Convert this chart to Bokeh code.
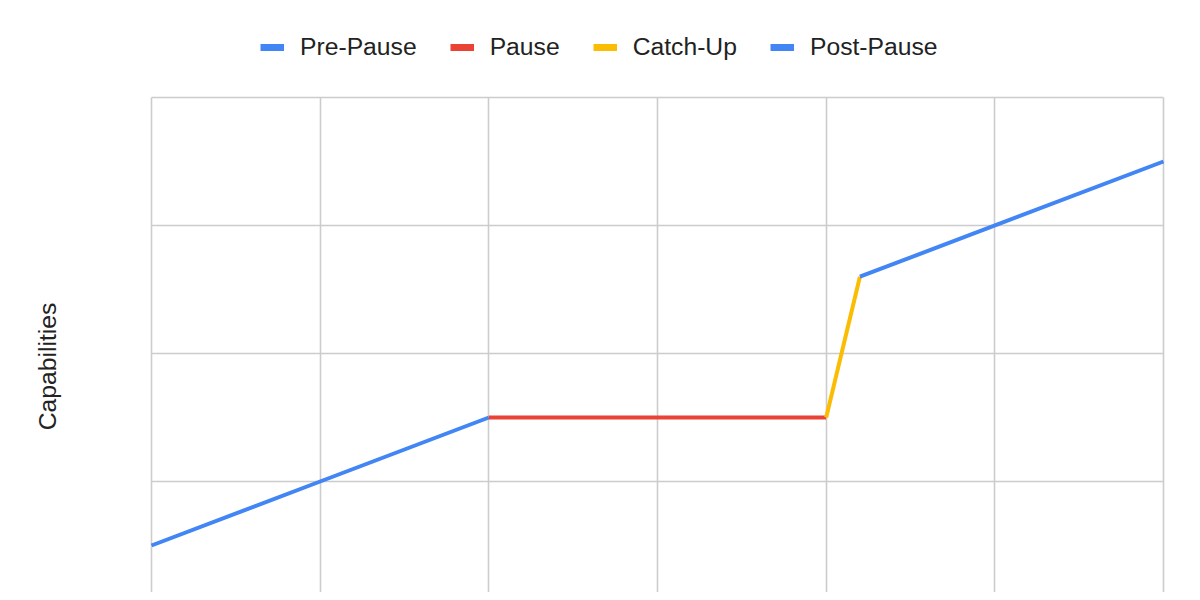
import math
from bokeh.plotting import figure
from bokeh.models import Range1d, Grid, FixedTicker, Legend, LegendItem, Label
from bokeh.embed import file_html
from bokeh.resources import INLINE

# ---- data ----
pre_x = [0, 1, 2]
pre_y = [0.5, 1.0, 1.5]
pause_x = [2, 4]
pause_y = [1.5, 1.5]
catch_x = [4, 4.2]
catch_y = [1.5, 2.6]
post_x = [4.2, 6]
post_y = [2.6, 3.5]
x_grid = [0, 1, 2, 3, 4, 5, 6]
y_grid = [0, 1, 2, 3, 4]
series_names = ["Pre-Pause", "Pause", "Catch-Up", "Post-Pause"]
series_colors = ["#4285F4", "#EA4335", "#FBBC04", "#4285F4"]
y_title = "Capabilities"

FONT = "Liberation Sans"
W, H = 1192, 592
PX_X = 168.667   # pixels per x unit
PX_Y = 128.0     # pixels per y unit
X0_PX, Y4_PX = 151, 97

x_start = -X0_PX / PX_X
x_end = 6 + (W - 1163) / PX_X
y_top = 4 + Y4_PX / PX_Y
y_bot = 4 - (H - Y4_PX) / PX_Y

p = figure(width=W, height=H, output_backend="svg", toolbar_location=None,
           x_axis_location=None, y_axis_location=None,
           x_range=Range1d(x_start, x_end), y_range=Range1d(y_bot, y_top),
           min_border_left=0, min_border_right=0, min_border_top=0, min_border_bottom=0)
p.outline_line_color = None
p.background_fill_color = "white"
p.border_fill_color = "white"
p.center = []

p.add_layout(Grid(dimension=0, ticker=FixedTicker(ticks=x_grid), cross_bounds=(y_bot - 1, y_grid[-1]),
                  grid_line_color="#cccccc", grid_line_width=1.6))
p.add_layout(Grid(dimension=1, ticker=FixedTicker(ticks=y_grid), cross_bounds=(x_grid[0], x_grid[-1]),
                  grid_line_color="#cccccc", grid_line_width=1.6))

xs = [pre_x, pause_x, catch_x, post_x]
ys = [pre_y, pause_y, catch_y, post_y]
items = []
for name, color, x, y in zip(series_names, series_colors, xs, ys):
    p.line(x, y, line_color=color, line_width=4)
    # single-point line: invisible in the plot, used only for the legend swatch
    swatch = p.line([x[0]], [y[0]], line_color=color, line_width=7)
    items.append(LegendItem(label=name, renderers=[swatch]))

legend = Legend(items=items, orientation="horizontal", location=(260, 531),
                glyph_width=24, glyph_height=28, label_height=28, label_standoff=16, spacing=33,
                padding=0, margin=0, border_line_color=None, background_fill_alpha=0,
                label_text_font=FONT, label_text_font_size="24.7px", label_text_color="#222222")
p.add_layout(legend, "center")

lab = Label(x=47, y=H - 366, x_units="screen", y_units="screen", text=y_title, angle=math.pi / 2,
            text_align="center", text_baseline="middle", text_font=FONT,
            text_font_size="24.7px", text_color="#222222")
p.add_layout(lab)

open("out.html", "w").write(file_html(p, INLINE))
